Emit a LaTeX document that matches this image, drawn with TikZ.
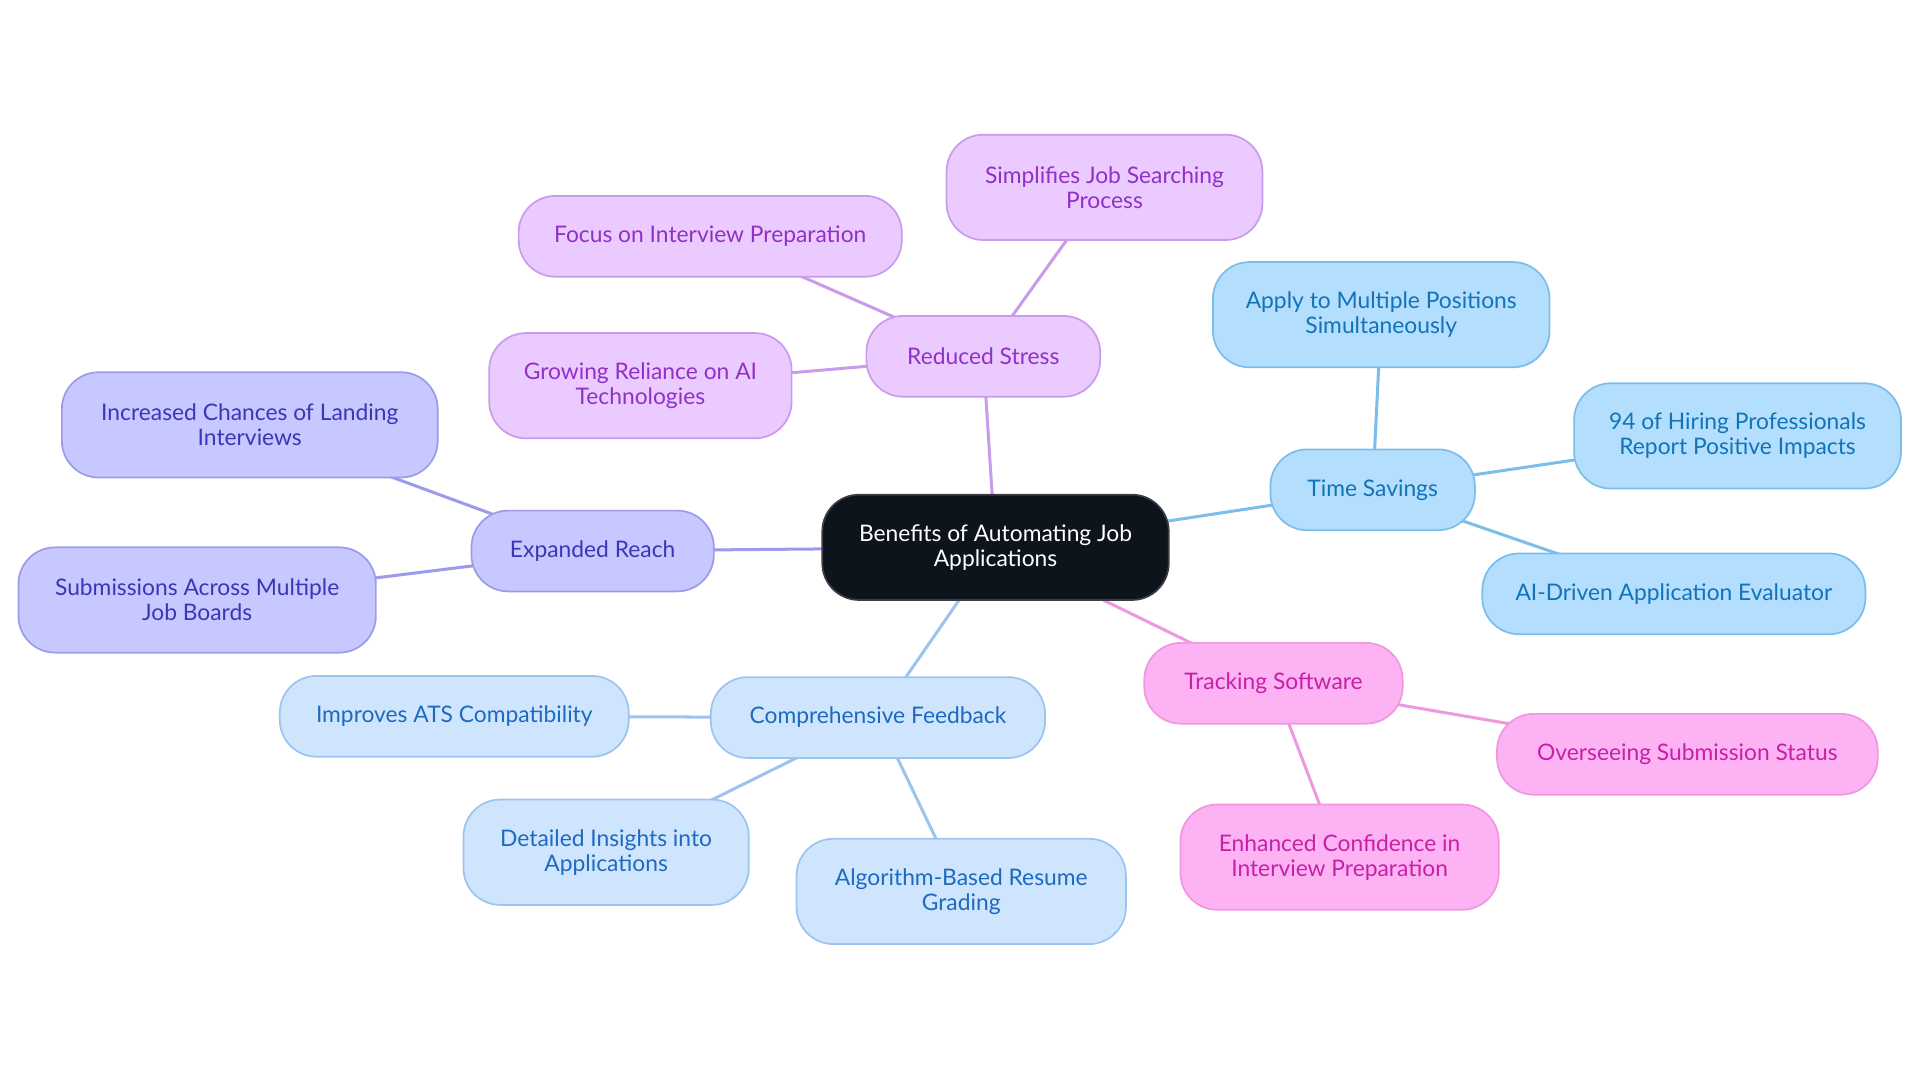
\documentclass[tikz,border=0pt]{standalone}
\usepackage{fontspec}
\setmainfont{Lato}
\usetikzlibrary{backgrounds}

\definecolor{rootfill}{HTML}{0D141C}
\definecolor{rootline}{HTML}{3A3F45}
\definecolor{stressfill}{HTML}{EBCBFF}
\definecolor{stressline}{HTML}{C99BEB}
\definecolor{stresstext}{HTML}{9030C8}
\definecolor{reachfill}{HTML}{C7C8FF}
\definecolor{reachline}{HTML}{9C9BEA}
\definecolor{reachtext}{HTML}{3B36B8}
\definecolor{timefill}{HTML}{B3DEFE}
\definecolor{timeline}{HTML}{7DBDEA}
\definecolor{timetext}{HTML}{1273B8}
\definecolor{trackfill}{HTML}{FDB3F3}
\definecolor{trackline}{HTML}{EE98DF}
\definecolor{tracktext}{HTML}{C81FA8}
\definecolor{feedfill}{HTML}{CFE5FD}
\definecolor{feedline}{HTML}{9CC4EE}
\definecolor{feedtext}{HTML}{1D6AC0}

\tikzset{
    box/.style={
        rounded corners=0.6cm,
        align=center,
        line width=0.8pt,
        inner sep=2pt,
        font=\fontsize{10.6}{11.6}\selectfont
    },
    short/.style={minimum height=1.32cm},
    tall/.style={minimum height=1.72cm},
    rootbox/.style={box, tall, fill=rootfill, draw=rootline, text=white},
    stressbox/.style={box, fill=stressfill, draw=stressline, text=stresstext},
    reachbox/.style={box, fill=reachfill, draw=reachline, text=reachtext},
    timebox/.style={box, fill=timefill, draw=timeline, text=timetext},
    trackbox/.style={box, fill=trackfill, draw=trackline, text=tracktext},
    feedbox/.style={box, fill=feedfill, draw=feedline, text=feedtext},
    link/.style={line width=1.4pt}
}

\begin{document}
\begin{tikzpicture}[x=0.02cm, y=-0.02cm]
        \useasboundingbox (0,0) rectangle (1568,884);
        % Root
        \node[rootbox, minimum width=5.66cm] (Root) at (813,447)
            {Benefits of Automating Job\\Applications};
        % Reduced Stress branch
        \node[stressbox, short, minimum width=3.82cm] (Stress) at (803,291) {Reduced Stress};
        \node[stressbox, tall, minimum width=5.16cm] (Stress-1) at (902,153)
            {Simplifies Job Searching\\Process};
        \node[stressbox, short, minimum width=6.26cm] (Stress-2) at (580,193)
            {Focus on Interview Preparation};
        \node[stressbox, tall, minimum width=4.94cm] (Stress-3) at (523,315)
            {Growing Reliance on AI\\Technologies};
        % Expanded Reach branch
        \node[reachbox, short, minimum width=3.96cm] (Reach) at (484,450) {Expanded Reach};
        \node[reachbox, tall, minimum width=6.14cm] (Reach-1) at (204,347)
            {Increased Chances of Landing\\Interviews};
        \node[reachbox, tall, minimum width=5.84cm] (Reach-2) at (161,490)
            {Submissions Across Multiple\\Job Boards};
        % Time Savings branch
        \node[timebox, short, minimum width=3.34cm] (Time) at (1121,400) {Time Savings};
        \node[timebox, tall, minimum width=5.5cm] (Time-1) at (1128,257)
            {Apply to Multiple Positions\\Simultaneously};
        \node[timebox, tall, minimum width=5.34cm] (Time-2) at (1419,356)
            {94 of Hiring Professionals\\Report Positive Impacts};
        \node[timebox, short, minimum width=6.26cm] (Time-3) at (1367,485)
            {AI-Driven Application Evaluator};
        % Tracking Software branch
        \node[trackbox, short, minimum width=4.22cm] (Track) at (1040,558) {Tracking Software};
        \node[trackbox, short, minimum width=6.22cm] (Track-1) at (1378,616)
            {Overseeing Submission Status};
        \node[trackbox, tall, minimum width=5.2cm] (Track-2) at (1094,700)
            {Enhanced Confidence in\\Interview Preparation};
        % Comprehensive Feedback branch
        \node[feedbox, short, minimum width=5.46cm] (Feed) at (717,586) {Comprehensive Feedback};
        \node[feedbox, short, minimum width=5.7cm] (Feed-1) at (371,585)
            {Improves ATS Compatibility};
        \node[feedbox, tall, minimum width=4.66cm] (Feed-2) at (495,696)
            {Detailed Insights into\\Applications};
        \node[feedbox, tall, minimum width=5.38cm] (Feed-3) at (785,728)
            {Algorithm-Based Resume\\Grading};
        \begin{pgfonlayer}{background}
            % Connect root to branches
            \draw[link, stressline] (Root.center) -- (Stress.center);
            \draw[link, reachline] (Root.center) -- (Reach.center);
            \draw[link, timeline] (Root.center) -- (Time.center);
            \draw[link, trackline] (Root.center) -- (Track.center);
            \draw[link, feedline] (Root.center) -- (Feed.center);
            % Connect branches to leaves
            \foreach \i in {1,...,3} {
                \draw[link, stressline] (Stress.center) -- (Stress-\i.center);
                \draw[link, timeline] (Time.center) -- (Time-\i.center);
                \draw[link, feedline] (Feed.center) -- (Feed-\i.center);
            }
            \foreach \i in {1,2} {
                \draw[link, reachline] (Reach.center) -- (Reach-\i.center);
                \draw[link, trackline] (Track.center) -- (Track-\i.center);
            }
        \end{pgfonlayer}
    \end{tikzpicture}
\end{document}
